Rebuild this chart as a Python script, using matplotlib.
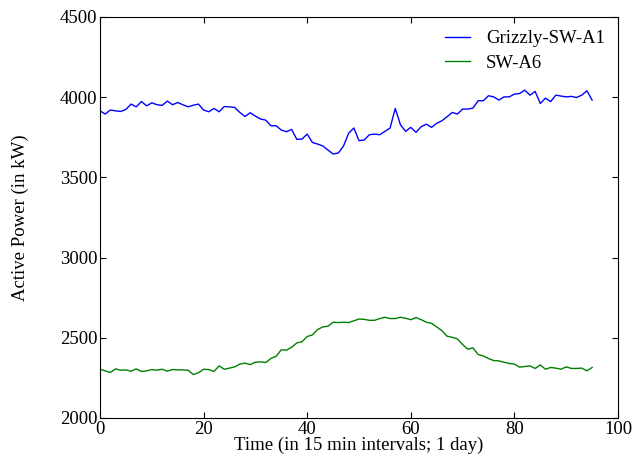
import numpy as np
import matplotlib.pyplot as plt

plt.rcParams['font.family'] = ['Liberation Serif', 'DejaVu Serif']
plt.rcParams['font.size'] = 13.5

grizzly = [3915, 3895, 3920, 3915, 3911, 3924, 3957, 3940, 3973, 3946,
           3965, 3953, 3949, 3976, 3953, 3967, 3953, 3940, 3950, 3957,
           3920, 3909, 3930, 3909, 3942, 3940, 3936, 3905, 3880, 3903,
           3882, 3864, 3857, 3822, 3822, 3795, 3785, 3799, 3737, 3739,
           3770, 3718, 3708, 3696, 3671, 3646, 3652, 3695, 3775, 3808,
           3729, 3733, 3766, 3770, 3766, 3787, 3808, 3930, 3828, 3787,
           3812, 3781, 3816, 3832, 3812, 3837, 3853, 3878, 3905, 3895,
           3926, 3926, 3932, 3978, 3978, 4009, 4002, 3982, 4002, 4002,
           4019, 4023, 4044, 4013, 4036, 3961, 3994, 3973, 4013, 4007,
           4002, 4005, 3998, 4013, 4040, 3982]

sw_a6 = [2304, 2294, 2284, 2306, 2298, 2300, 2292, 2306, 2290, 2294,
         2302, 2298, 2304, 2292, 2302, 2300, 2300, 2298, 2271, 2282,
         2304, 2302, 2290, 2325, 2304, 2311, 2319, 2336, 2342, 2333,
         2348, 2350, 2346, 2371, 2385, 2425, 2423, 2441, 2468, 2476,
         2508, 2518, 2551, 2568, 2572, 2597, 2595, 2597, 2595, 2606,
         2617, 2615, 2609, 2609, 2620, 2628, 2620, 2620, 2628, 2622,
         2613, 2626, 2613, 2597, 2590, 2568, 2545, 2510, 2503, 2493,
         2458, 2429, 2437, 2396, 2387, 2371, 2358, 2356, 2348, 2340,
         2336, 2317, 2321, 2325, 2309, 2331, 2304, 2315, 2311, 2304,
         2319, 2309, 2309, 2311, 2294, 2315]

labels = ["Grizzly-SW-A1", "SW-A6"]

t = np.arange(len(grizzly))

fig = plt.figure(figsize=(6.4, 4.57), dpi=100)
ax = fig.add_axes([100/640, 1 - 418/457, 518/640, 401/457])
ax.plot(t, grizzly, color='b', lw=1, label=labels[0])
ax.plot(t, sw_a6, color='g', lw=1, label=labels[1])
ax.set_xlim(0, 100)
ax.set_ylim(2000, 4500)
ax.set_xticks(range(0, 101, 20))
ax.set_yticks(range(2000, 4501, 500))
ax.tick_params(direction='in', top=True, right=True, length=4, width=0.8, pad=2)
ax.set_xlabel("Time (in 15 min intervals; 1 day)", labelpad=-1)
ax.set_ylabel("Active Power (in kW)", labelpad=22)
ax.legend(loc='upper right', frameon=False, handlelength=1.35,
          borderaxespad=0.3, labelspacing=0.38, handletextpad=0.85)

fig.savefig("out.png", dpi=100)
